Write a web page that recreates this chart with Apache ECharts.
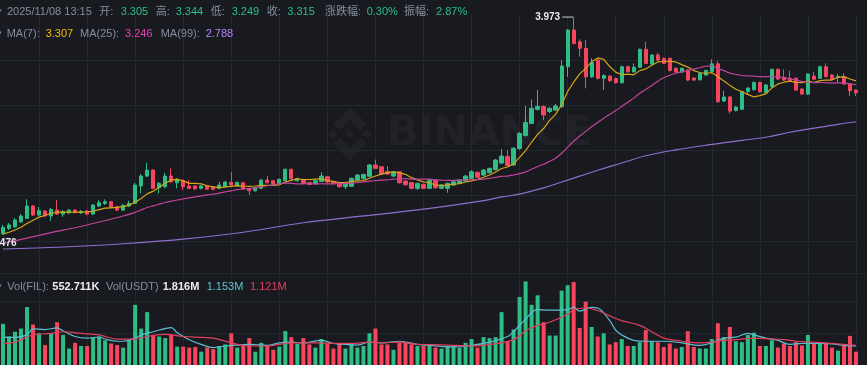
<!DOCTYPE html>
<html><head><meta charset="utf-8">
<script src="https://cdn.jsdelivr.net/npm/echarts/dist/echarts.min.js"></script>
<style>html,body{margin:0;padding:0;background:#181a20;}#c{width:867px;height:365px;}</style>
</head><body><div id="c"></div>
<script>
// ---------------- DATA ----------------
const opens = [1.583,1.638,1.656,1.711,1.749,1.885,1.785,1.829,1.774,1.840,1.796,1.810,1.840,1.810,1.829,1.796,1.885,1.914,1.932,1.877,1.840,1.885,1.914,2.106,2.216,2.282,2.087,2.098,2.216,2.142,2.164,2.106,2.106,2.080,2.109,2.098,2.080,2.098,2.146,2.109,2.142,2.072,2.053,2.080,2.172,2.164,2.135,2.164,2.290,2.164,2.177,2.144,2.131,2.157,2.208,2.153,2.144,2.098,2.102,2.172,2.188,2.213,2.338,2.319,2.263,2.216,2.263,2.161,2.144,2.080,2.124,2.080,2.172,2.080,2.080,2.117,2.135,2.161,2.191,2.257,2.227,2.252,2.286,2.360,2.431,2.338,2.520,2.664,2.798,2.953,2.986,2.929,2.945,2.982,3.424,3.829,3.700,3.627,3.313,3.498,3.296,3.321,3.293,3.247,3.424,3.368,3.417,3.616,3.454,3.553,3.517,3.517,3.406,3.365,3.387,3.299,3.280,3.332,3.371,3.456,3.045,3.089,2.940,2.953,3.150,3.170,3.251,3.136,3.203,3.395,3.307,3.296,3.296,3.177,3.122,3.321,3.296,3.424,3.332,3.305,3.313,3.233,3.166];
const closes = [1.649,1.675,1.730,1.774,1.885,1.785,1.833,1.777,1.848,1.796,1.821,1.840,1.815,1.826,1.796,1.896,1.921,1.932,1.870,1.840,1.892,1.914,2.117,2.216,2.282,2.080,2.135,2.216,2.153,2.180,2.098,2.080,2.076,2.106,2.072,2.069,2.117,2.150,2.117,2.146,2.072,2.053,2.087,2.172,2.142,2.128,2.180,2.290,2.186,2.188,2.133,2.124,2.164,2.216,2.150,2.131,2.098,2.128,2.191,2.227,2.233,2.338,2.301,2.241,2.238,2.263,2.142,2.120,2.080,2.135,2.080,2.172,2.087,2.117,2.135,2.153,2.172,2.216,2.263,2.202,2.282,2.301,2.393,2.437,2.332,2.522,2.686,2.807,2.964,2.986,2.890,2.964,2.990,3.432,3.829,3.682,3.627,3.313,3.470,3.296,3.327,3.269,3.247,3.424,3.368,3.417,3.616,3.461,3.553,3.498,3.461,3.382,3.365,3.406,3.277,3.277,3.351,3.382,3.456,3.037,3.089,2.934,2.978,3.150,3.188,3.251,3.147,3.222,3.395,3.288,3.277,3.271,3.166,3.122,3.343,3.285,3.424,3.315,3.285,3.315,3.233,3.159,3.136];
const lows = [1.564,1.619,1.641,1.697,1.741,1.774,1.774,1.763,1.722,1.785,1.766,1.796,1.802,1.796,1.782,1.785,1.873,1.896,1.862,1.829,1.829,1.873,1.907,2.025,2.205,2.072,2.025,2.083,2.139,2.080,2.061,2.072,2.061,2.067,2.061,2.056,2.072,2.089,2.106,2.100,2.061,2.006,2.045,2.072,2.133,2.117,2.128,2.155,2.177,2.155,2.122,2.117,2.122,2.150,2.139,2.122,2.089,2.072,2.094,2.161,2.177,2.205,2.293,2.233,2.227,2.205,2.133,2.111,2.072,2.061,2.072,2.072,2.078,2.072,2.031,2.106,2.128,2.150,2.183,2.194,2.216,2.244,2.277,2.349,2.321,2.327,2.503,2.652,2.791,2.940,2.835,2.909,2.934,2.973,3.313,3.669,3.534,3.185,3.299,3.282,3.166,3.260,3.238,3.238,3.360,3.360,3.409,3.454,3.443,3.487,3.454,3.371,3.354,3.354,3.266,3.266,3.271,3.321,3.360,3.028,3.034,2.909,2.929,2.945,3.111,3.161,3.139,3.128,3.194,3.277,3.266,3.260,3.155,3.111,3.111,3.277,3.288,3.304,3.277,3.249,3.222,3.099,3.099];
const highs = [1.675,1.697,1.752,1.796,1.959,1.896,1.873,1.840,1.862,1.951,1.840,1.851,1.851,1.840,1.840,1.907,1.951,1.959,1.940,1.885,1.907,1.943,2.142,2.238,2.363,2.293,2.150,2.252,2.301,2.194,2.180,2.172,2.117,2.117,2.117,2.106,2.153,2.161,2.263,2.155,2.150,2.083,2.094,2.183,2.216,2.172,2.188,2.299,2.299,2.199,2.183,2.150,2.172,2.257,2.216,2.161,2.150,2.139,2.199,2.238,2.244,2.349,2.398,2.327,2.327,2.271,2.271,2.166,2.150,2.144,2.133,2.183,2.177,2.128,2.144,2.161,2.183,2.227,2.282,2.266,2.293,2.310,2.404,2.514,2.503,2.536,2.702,2.990,3.061,3.166,2.995,2.978,3.012,3.498,3.840,3.973,3.727,3.719,3.517,3.509,3.338,3.332,3.304,3.437,3.437,3.461,3.625,3.700,3.564,3.578,3.525,3.525,3.415,3.415,3.398,3.310,3.360,3.393,3.506,3.487,3.159,3.100,2.990,3.161,3.199,3.260,3.260,3.233,3.404,3.404,3.395,3.380,3.304,3.188,3.354,3.368,3.437,3.461,3.343,3.344,3.351,3.244,3.177];
const ma7 = [1.575,1.595,1.620,1.650,1.692,1.727,1.762,1.780,1.805,1.814,1.821,1.814,1.819,1.818,1.820,1.827,1.845,1.861,1.865,1.869,1.878,1.895,1.927,1.969,2.019,2.049,2.091,2.137,2.171,2.180,2.163,2.135,2.134,2.130,2.109,2.097,2.088,2.096,2.101,2.111,2.106,2.103,2.106,2.114,2.113,2.114,2.119,2.150,2.169,2.184,2.178,2.176,2.181,2.186,2.166,2.158,2.145,2.144,2.154,2.163,2.165,2.192,2.217,2.237,2.253,2.263,2.251,2.235,2.198,2.174,2.151,2.142,2.117,2.113,2.115,2.126,2.131,2.150,2.163,2.180,2.203,2.227,2.261,2.299,2.316,2.353,2.422,2.497,2.592,2.676,2.741,2.831,2.898,3.005,3.151,3.253,3.345,3.405,3.478,3.521,3.506,3.426,3.364,3.335,3.343,3.335,3.381,3.400,3.441,3.477,3.482,3.484,3.477,3.447,3.420,3.381,3.360,3.349,3.359,3.312,3.267,3.218,3.175,3.147,3.119,3.090,3.105,3.124,3.190,3.234,3.253,3.264,3.252,3.249,3.266,3.250,3.270,3.275,3.277,3.307,3.314,3.288,3.267];
const ma25 = [1.475,null,null,null,1.530,null,null,null,1.590,null,null,null,1.645,null,null,null,1.708,null,null,null,1.775,null,1.815,1.842,1.869,1.886,1.905,1.924,1.939,1.951,1.964,1.974,1.986,1.996,2.007,2.017,2.028,2.041,2.053,2.067,2.074,2.079,2.085,2.097,2.109,2.119,2.130,2.137,2.135,2.129,2.131,2.131,2.129,2.131,2.130,2.131,2.132,2.134,2.137,2.143,2.150,2.159,2.165,2.170,2.174,2.182,2.186,2.187,2.183,2.183,2.181,2.181,2.173,2.170,2.168,2.169,2.171,2.173,2.175,2.177,2.183,2.191,2.202,2.212,2.216,2.228,2.242,2.262,2.291,2.321,2.346,2.379,2.414,2.468,2.536,2.600,2.658,2.707,2.761,2.807,2.854,2.898,2.939,2.985,3.032,3.077,3.130,3.173,3.217,3.264,3.302,3.330,3.352,3.370,3.382,3.398,3.413,3.429,3.434,3.405,3.381,3.353,3.340,3.327,3.323,3.320,3.315,3.314,3.313,3.310,3.304,3.290,3.278,3.261,3.255,3.248,3.250,3.248,3.243,3.246,3.243,3.235,3.225];
const ma99 = [[0,1.410],[10,1.432],[20,1.468],[30,1.520],[40,1.595],[50,1.700],[60,1.775],[70,1.850],[80,1.945],[83,1.985],[86,2.017],[90,2.085],[93,2.150],[96,2.215],[99,2.280],[103,2.360],[107,2.440],[112,2.505],[118,2.565],[123,2.610],[127,2.645],[131,2.700],[135,2.745],[139,2.788],[142,2.816]];
// volume in million USDT
const volumes = [5.20,3.60,4.20,4.60,7.32,5.12,4.00,2.52,3.92,5.40,3.80,2.08,2.80,2.40,2.40,3.52,3.60,3.12,2.72,2.52,2.20,3.20,7.60,4.60,6.68,3.80,3.60,3.40,3.80,2.32,2.32,2.20,2.28,1.68,2.20,2.00,2.40,2.60,4.00,2.20,2.40,3.40,1.68,2.80,2.48,1.92,2.32,4.28,3.52,2.68,3.40,2.60,2.20,3.28,2.72,2.08,2.72,2.08,2.60,2.20,2.40,4.00,4.60,2.60,2.60,1.92,2.80,2.80,2.60,2.40,2.40,2.52,2.20,2.08,2.40,2.40,2.20,2.80,3.28,2.20,3.52,3.40,3.52,6.68,3.00,4.48,8.60,10.56,7.60,8.80,5.40,3.72,3.72,9.40,10.08,10.48,4.68,8.00,4.80,3.60,4.00,2.60,2.88,3.28,2.40,2.40,2.88,4.40,3.00,2.88,2.28,2.72,2.08,2.28,4.28,2.28,2.08,2.08,3.28,5.28,3.52,4.80,3.00,2.88,3.80,4.08,2.40,2.40,3.12,2.20,2.72,2.40,2.88,2.48,3.80,2.72,2.72,2.80,2.20,1.816,2.40,3.68,1.68];
const volMaA = [[0,3.52],[2,3.48],[4,3.80],[5,4.56],[7,4.48],[9,4.68],[10,4.32],[12,3.60],[14,3.40],[16,3.54],[17,3.28],[19,3.00],[20,3.00],[22,3.40],[23,3.80],[25,4.20],[27,4.60],[28,4.72],[29,4.08],[31,3.20],[33,2.60],[35,2.20],[37,2.40],[39,2.52],[41,2.60],[44,2.48],[46,2.80],[48,2.88],[50,2.80],[53,3.12],[55,2.72],[57,2.60],[59,2.52],[61,2.88],[63,2.80],[66,3.00],[69,2.60],[71,2.48],[75,2.28],[78,2.48],[81,2.88],[84,3.60],[85,4.20],[87,5.80],[89,7.00],[91,6.92],[94,7.00],[95,7.28],[96,6.80],[98,7.28],[99,7.20],[101,5.60],[102,4.40],[103,3.80],[105,3.12],[107,3.00],[110,3.00],[113,2.80],[116,2.48],[118,2.80],[120,3.40],[122,3.52],[124,4.00],[125,3.80],[127,3.40],[129,3.12],[131,2.60],[133,2.72],[135,2.72],[138,2.68],[140,2.48],[142,2.40]];
const volMaB = [[0,2.72],[2,2.88],[5,3.80],[8,4.00],[10,4.20],[13,4.00],[16,3.80],[19,3.28],[22,3.28],[24,3.60],[27,3.88],[30,3.60],[33,3.48],[35,3.40],[38,2.80],[41,2.40],[44,2.40],[46,2.60],[48,2.80],[52,2.80],[55,2.72],[58,2.72],[61,2.88],[63,2.80],[66,2.88],[69,2.60],[71,2.58],[75,2.48],[78,2.40],[81,2.60],[85,3.20],[87,4.32],[89,5.00],[91,5.40],[94,6.40],[95,7.00],[97,7.20],[99,6.88],[101,6.20],[103,5.60],[106,5.00],[108,4.20],[110,3.40],[113,3.00],[116,2.80],[118,2.88],[120,3.12],[122,3.20],[125,3.40],[127,3.32],[130,3.20],[132,3.00],[135,2.88],[138,2.72],[142,2.48]];
const headerDate = '2025/11/08 13:15';
const headerLabels = ['开:', '高:', '低:', '收:', '涨跌幅:', '振幅:'];
const headerValues = ['3.305', '3.344', '3.249', '3.315', '0.30%', '2.87%'];
const maLabels = ['MA(7):', 'MA(25):', 'MA(99):'];
const maValues = ['3.307', '3.246', '2.788'];
const volLabels = ['Vol(FIL):', 'Vol(USDT)'];
const volValues = ['552.711K', '1.816M', '1.153M', '1.121M'];
const highLabel = '3.973';
const lowLabel = '1.476';
// time categories: 15-minute candles
const categories = [];
{
  const t0 = Date.UTC(2025, 10, 7, 2, 30);
  const p = n => String(n).padStart(2, '0');
  for (let i = 0; i < opens.length; i++) {
    const d = new Date(t0 + i * 15 * 60000);
    categories.push(d.getUTCFullYear() + '/' + p(d.getUTCMonth() + 1) + '/' + p(d.getUTCDate()) + ' ' + p(d.getUTCHours()) + ':' + p(d.getUTCMinutes()));
  }
}

// ---------------- STYLE / LAYOUT ----------------
const UP = '#2ebd85', DOWN = '#f6465d', GRID = '#23272e', GRAY = '#848e9c';
const FONT = '11px "Liberation Sans", Arial, "Noto Sans CJK SC", sans-serif';
const FONT_B = 'bold 11px "Liberation Sans", Arial, sans-serif';
const MARKFONT = '"Liberation Sans", Arial, sans-serif';

const chart = echarts.init(document.getElementById('c'), null, {renderer: 'canvas'});
const candleData = opens.map((o, i) => [o, closes[i], lows[i], highs[i]]);
const volData = volumes.map((v, i) => ({value: v, itemStyle: {color: closes[i] >= opens[i] ? UP : DOWN}}));
const hiIdx = highs.indexOf(Math.max(...highs));

const graphics = [];
function txt(x, y, text, fill, font, z) {
  graphics.push({type: 'text', x: x, y: y, z: z || 100, silent: true,
    style: {text: text, fill: fill, font: font || FONT, align: 'left', verticalAlign: 'middle'}});
}
// watermark
const LX = 350, LY = 134, S = 27, WM = 'rgba(255,255,255,0.035)';
function dia(cx, cy, d) { return [[cx, cy - d], [cx + d, cy], [cx, cy + d], [cx - d, cy]]; }
[dia(LX, LY, 0.18 * S), dia(LX - 0.63 * S, LY, 0.18 * S), dia(LX + 0.63 * S, LY, 0.18 * S),
 [[LX, LY - S], [LX + 0.62 * S, LY - 0.38 * S], [LX + 0.38 * S, LY - 0.14 * S], [LX, LY - 0.52 * S], [LX - 0.38 * S, LY - 0.14 * S], [LX - 0.62 * S, LY - 0.38 * S]],
 [[LX, LY + S], [LX + 0.62 * S, LY + 0.38 * S], [LX + 0.38 * S, LY + 0.14 * S], [LX, LY + 0.52 * S], [LX - 0.38 * S, LY + 0.14 * S], [LX - 0.62 * S, LY + 0.38 * S]]
].forEach(pts => graphics.push({type: 'polygon', z: 0, silent: true, shape: {points: pts}, style: {fill: WM}}));
graphics.push({type: 'text', x: 387, y: 134, z: 0, silent: true, style: {text: 'BINANCE', fill: WM, font: 'bold 41px "DejaVu Sans", sans-serif', align: 'left', verticalAlign: 'middle'}});
// pane separator
graphics.push({type: 'line', z: 1, silent: true, shape: {x1: 0, y1: 273.5, x2: 867, y2: 273.5}, style: {stroke: GRID, lineWidth: 1}});
// header line 1
txt(-4, 11.5, '▾', GRAY);
txt(7, 11.5, headerDate, GRAY);
const hLx = [99.3, 155.7, 210.7, 266.7, 325, 404];
const hVx = [120.7, 175.7, 231.7, 287.3, 366.7, 436];
headerLabels.forEach((l, i) => { txt(hLx[i], 11.5, l, GRAY); txt(hVx[i], 11.5, headerValues[i], UP); });
// header line 2
const maCol = ['#f0b90b', '#eb40b5', '#b385f8'];
const mLx = [6.7, 80, 160.7], mVx = [45.7, 125, 205.7];
txt(-4, 34.2, '▾', GRAY);
maLabels.forEach((l, i) => { txt(mLx[i], 34.2, l, GRAY); txt(mVx[i], 34.2, maValues[i], maCol[i]); });
// volume header
txt(-4, 286.7, '▾', GRAY);
txt(7.3, 286.7, volLabels[0], GRAY);
txt(52.3, 286.7, volValues[0], '#eaecef', FONT_B);
txt(106, 286.7, volLabels[1], GRAY);
txt(162.7, 286.7, volValues[1], '#eaecef', FONT_B);
txt(206.7, 286.7, volValues[2], '#5fc3d3');
txt(250, 286.7, volValues[3], '#e0405e');
// low price label (its candle lies off-screen to the left)
graphics.push({type: 'text', x: 16.5, y: 243.3, z: 100, silent: true,
  style: {text: lowLabel, fill: '#e6e8ea', font: 'bold 10px ' + MARKFONT, align: 'right', verticalAlign: 'middle'}});

const catAxis = (gi) => ({
  type: 'category', gridIndex: gi, data: categories, boundaryGap: true,
  axisLine: {show: false}, axisTick: {show: false}, axisLabel: {show: false},
  splitLine: {show: true, alignWithLabel: true, interval: (idx) => idx % 8 === 6, lineStyle: {color: GRID, width: 1}}
});

chart.setOption({
  backgroundColor: '#181a20',
  animation: false,
  grid: [
    {left: 0, width: 859, top: 14.6, height: 271.5},
    {left: 0, width: 859, top: 270, height: 100}
  ],
  xAxis: [catAxis(0), catAxis(1)],
  yAxis: [
    {type: 'value', gridIndex: 0, min: 1, max: 4, interval: 0.5, position: 'right',
     axisLine: {show: false}, axisTick: {show: false}, axisLabel: {show: false},
     splitLine: {show: true, showMinLine: false, showMaxLine: false, lineStyle: {color: GRID, width: 1}}},
    {type: 'value', gridIndex: 1, min: 0, max: 12, interval: 4, position: 'right',
     axisLine: {show: false}, axisTick: {show: false}, axisLabel: {show: false},
     splitLine: {show: true, showMinLine: false, showMaxLine: false, lineStyle: {color: GRID, width: 1}}}
  ],
  graphic: graphics,
  series: [
    {type: 'candlestick', xAxisIndex: 0, yAxisIndex: 0, data: candleData, barWidth: 3.8,
     itemStyle: {color: UP, color0: DOWN, borderColor: UP, borderColor0: DOWN, borderWidth: 1},
     markPoint: {
       symbol: 'rect', symbolSize: [11, 1], symbolOffset: [-6, 0], silent: true,
       itemStyle: {color: '#c8ccd2'},
       label: {show: true, position: 'left', distance: 2, formatter: highLabel, color: '#e6e8ea',
               fontSize: 10, fontWeight: 'bold', fontFamily: MARKFONT},
       data: [{coord: [categories[hiIdx], highs[hiIdx]]}]
     }},
    {type: 'line', xAxisIndex: 0, yAxisIndex: 0, data: ma7, symbol: 'none', connectNulls: true,
     lineStyle: {color: '#d6a515', width: 1.2}, silent: true},
    {type: 'line', xAxisIndex: 0, yAxisIndex: 0, data: ma25, symbol: 'none', connectNulls: true, smooth: 0.3,
     lineStyle: {color: '#c2449a', width: 1.2}, silent: true},
    {type: 'line', xAxisIndex: 0, yAxisIndex: 0, data: ma99, symbol: 'none', smooth: 0.4,
     lineStyle: {color: '#8e6fcf', width: 1.2}, silent: true},
    {type: 'bar', xAxisIndex: 1, yAxisIndex: 1, data: volData, barWidth: 4, silent: true},
    {type: 'line', xAxisIndex: 1, yAxisIndex: 1, data: volMaA, symbol: 'none', smooth: 0.4,
     lineStyle: {color: '#5bbfd2', width: 1.2}, silent: true},
    {type: 'line', xAxisIndex: 1, yAxisIndex: 1, data: volMaB, symbol: 'none', smooth: 0.4,
     lineStyle: {color: '#e0405e', width: 1.2}, silent: true}
  ]
});
</script></body></html>
